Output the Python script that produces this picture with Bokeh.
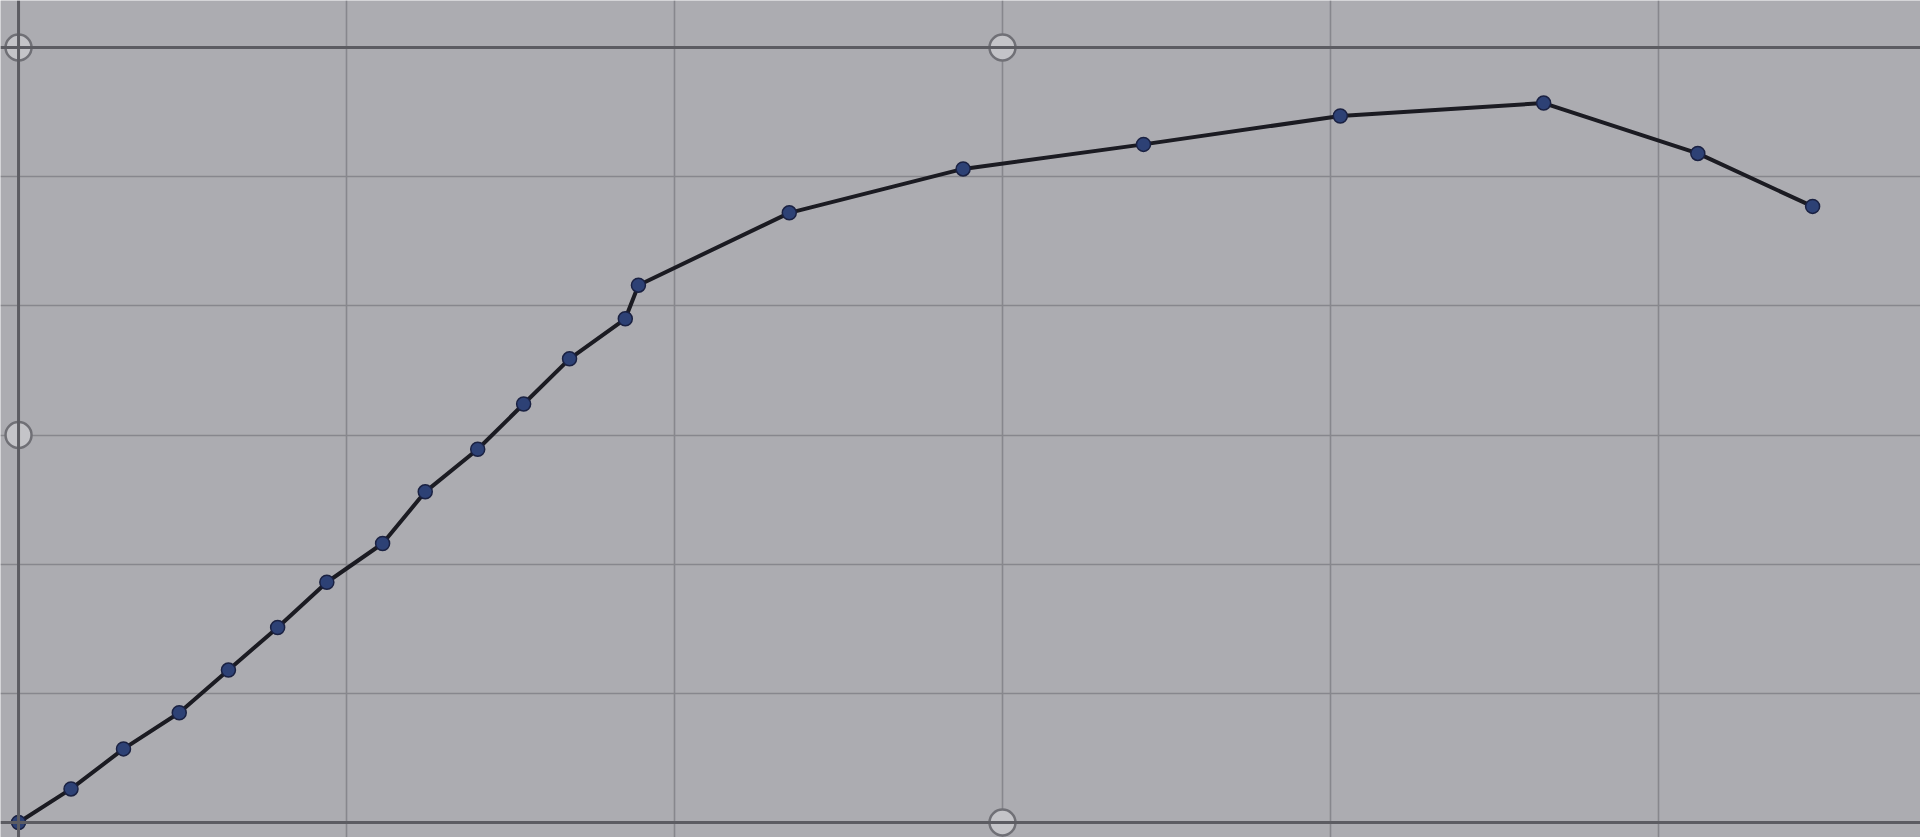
from bokeh.plotting import figure
from bokeh.models import Range1d, FixedTicker, Span, ColumnDataSource
from bokeh.embed import file_html
from bokeh.resources import INLINE

# Series values (grid units; no tick labels are visible)
x_vals = [0.0, 0.16, 0.32, 0.49, 0.64, 0.79, 0.94, 1.11, 1.24, 1.40, 1.54,
          1.68, 1.85, 1.89, 2.35, 2.88, 3.43, 4.03, 4.65, 5.12, 5.47]
y_vals = [0.0, 0.26, 0.57, 0.85, 1.18, 1.51, 1.86, 2.16, 2.56, 2.89, 3.24,
          3.59, 3.90, 4.16, 4.72, 5.06, 5.25, 5.47, 5.57, 5.18, 4.77]

# Plot-area extent and gridline positions
area_x = [0, 6]
area_y = [0, 6]
x_grid = [1, 2, 3, 4, 5]
y_grid = [1, 2, 3, 4, 5]

BG = "#acacb1"
GRID = "#87878d"
BORDER = "#5c5c62"

p = figure(width=1920, height=837,
           x_range=Range1d(-0.055, 5.799), y_range=Range1d(-0.116, 6.364),
           output_backend="svg", toolbar_location=None, min_border=0)
p.xaxis.visible = False
p.yaxis.visible = False
p.outline_line_color = None
p.background_fill_color = BG
p.border_fill_color = BG

p.xgrid.ticker = FixedTicker(ticks=x_grid)
p.ygrid.ticker = FixedTicker(ticks=y_grid)
for g in (p.xgrid, p.ygrid):
    g.grid_line_color = GRID
    g.grid_line_width = 1.6

# plot-area border
p.add_layout(Span(location=area_y[1], dimension="width", line_color=BORDER, line_width=3))
p.add_layout(Span(location=area_y[0], dimension="width", line_color=BORDER, line_width=3))
p.add_layout(Span(location=area_x[0], dimension="height", line_color=BORDER, line_width=3))

src = ColumnDataSource(data=dict(x=x_vals, y=y_vals))
p.line("x", "y", source=src, line_color="#1b1b22", line_width=4)
p.scatter("x", "y", source=src, size=14, marker="circle",
          fill_color="#2d4175", line_color="#1a2142", line_width=1.5)

# selection handles of the plot area (corner and edge midpoints)
mid_x = (area_x[0] + area_x[1]) / 2
mid_y = (area_y[0] + area_y[1]) / 2
p.scatter(x=[area_x[0], area_x[0], mid_x, mid_x],
          y=[area_y[1], mid_y, area_y[1], area_y[0]],
          size=26, marker="circle", fill_color="#c4c4c8",
          line_color="#707076", line_width=2.5)

open("out.html", "w").write(file_html(p, INLINE))
